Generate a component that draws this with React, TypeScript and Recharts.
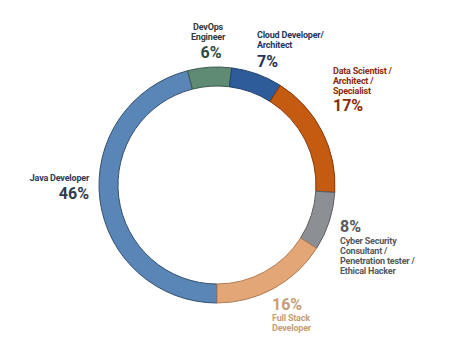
import { PieChart, Pie, Cell } from "recharts";

// roles, clockwise starting from the bottom of the ring
const roles = [
  "Java Developer",
  "DevOps Engineer",
  "Cloud Developer/ Architect",
  "Data Scientist / Architect / Specialist",
  "Cyber Security Consultant / Penetration tester / Ethical Hacker",
  "Full Stack Developer",
];
const roleLines = [
  ["Java Developer"],
  ["DevOps", "Engineer"],
  ["Cloud Developer/", "Architect"],
  ["Data Scientist /", "Architect /", "Specialist"],
  ["Cyber Security", "Consultant /", "Penetration tester /", "Ethical Hacker"],
  ["Full Stack", "Developer"],
];
const shares = [46, 6, 7, 17, 8, 16];

const fills = ["#5a86b7", "#5f8a74", "#2e5b9a", "#c55a11", "#8c9094", "#e2a677"];
const strokes = ["#34506f", "#3a5a4a", "#22416b", "#86380a", "#5c5f63", "#b07c55"];
const textColors = ["#2f3b52", "#2f4a3f", "#1f3560", "#8b2a0d", "#55585c", "#c89c78"];
const nameColors = ["#2f3b52", "#333840", "#1f3560", "#8b2a0d", "#55585c", "#c89c78"];

const data = roles.map((name, i) => ({ name, value: shares[i] }));

const FONT = "Roboto, 'Noto Sans', sans-serif";

// label placement relative to the ring centre
const labelLayout = [
  { anchor: "end", dx: -128, nameY: -4, pctY: 14 },
  { anchor: "middle", dx: -9, nameY: -155, pctY: -127 },
  { anchor: "start", dx: 40, nameY: -147, pctY: -118 },
  { anchor: "start", dx: 116, nameY: -111, pctY: -74 },
  { anchor: "start", dx: 123, nameY: 59, pctY: 47 },
  { anchor: "start", dx: 55, nameY: 136, pctY: 125 },
];

const renderLabel = (props: any) => {
  const { cx, cy, index, value } = props;
  const l = labelLayout[index];
  const x = cx + l.dx;
  const pctX = index === 1 ? x + 3 : x;
  return (
    <g key={index}>
      {roleLines[index].map((line, j) => (
        <text
          key={j}
          x={x}
          y={cy + l.nameY + j * 10}
          textAnchor={l.anchor}
          fontFamily={FONT}
          fontWeight={700}
          fontSize={9}
          letterSpacing={-0.2}
          fill={nameColors[index]}
        >
          {line}
        </text>
      ))}
      <text
        x={pctX}
        y={cy + l.pctY}
        textAnchor={l.anchor}
        fontFamily={FONT}
        fontWeight={700}
        fontSize={16}
        fill={textColors[index]}
      >
        {value}%
      </text>
    </g>
  );
};

export default function App() {
  return (
    <div style={{ position: "absolute", left: 0, top: 0, background: "#fff" }}>
      <PieChart width={474} height={353} margin={{ top: 0, right: 0, bottom: 0, left: 0 }}>
        <Pie
          data={data}
          dataKey="value"
          nameKey="name"
          cx={217}
          cy={185}
          innerRadius={99}
          outerRadius={118}
          startAngle={-90}
          endAngle={-450}
          label={renderLabel}
          labelLine={false}
          isAnimationActive={false}
        >
          {data.map((d, i) => (
            <Cell key={d.name} fill={fills[i]} stroke={strokes[i]} strokeWidth={1} />
          ))}
        </Pie>
      </PieChart>
    </div>
  );
}
